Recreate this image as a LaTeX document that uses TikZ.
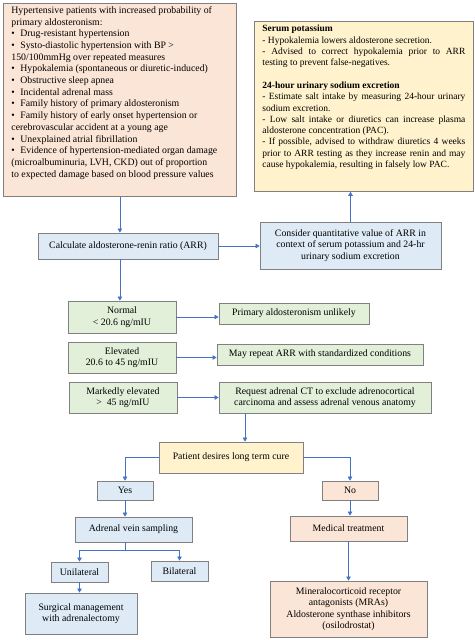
\documentclass[tikz,border=0pt]{standalone}
\usepackage{fontspec}
\setmainfont{Liberation Serif}
\usetikzlibrary{arrows.meta,calc,positioning}
\definecolor{peach}{RGB}{251,229,214}
\definecolor{paleyellow}{RGB}{255,242,204}
\definecolor{paleblue}{RGB}{222,235,247}
\definecolor{palegreen}{RGB}{226,240,217}
\definecolor{linkblue}{RGB}{68,114,196}
\definecolor{boxgray}{RGB}{128,128,128}
\newcommand{\bitem}[1]{\par\hangindent=9pt\hangafter=1\noindent\makebox[9pt][l]{\textbullet}#1}

\begin{document}
\begin{tikzpicture}[x=1pt,y=-1pt,
    box/.style={draw=boxgray,line width=0.8pt,align=center,inner sep=2pt,
      font=\fontsize{9.8}{11.5}\selectfont},
    link/.style={draw=linkblue,line width=0.6pt,-{Triangle[width=4.5pt,length=4pt]}}]
        \useasboundingbox (0,0) rectangle (474,640);
        %Top boxes
        \node[box,fill=peach,inner xsep=8pt,inner ysep=3pt,anchor=north west] (risk) at (3,3)
          {\parbox[c][187pt][t]{217pt}{\raggedright\fontsize{9.8}{11.7}\selectfont
            Hypertensive patients with increased probability of\\primary aldosteronism:
            \bitem{Drug-resistant hypertension}
            \bitem{Systo-diastolic hypertension with BP >\\150/100mmHg over repeated measures}
            \bitem{Hypokalemia (spontaneous or diuretic-induced)}
            \bitem{Obstructive sleep apnea}
            \bitem{Incidental adrenal mass}
            \bitem{Family history of primary aldosteronism}
            \bitem{Family history of early onset hypertension or\\cerebrovascular accident at a young age}
            \bitem{Unexplained atrial fibrillation}
            \bitem{Evidence of hypertension-mediated organ damage\\(microalbuminuria, LVH, CKD) out of proportion\\to expected damage based on blood pressure values}}};
        \node[box,fill=paleyellow,inner xsep=8pt,inner ysep=4pt,anchor=north west] (potas) at (254,21)
          {\parbox[c][162pt][t]{203pt}{\fontsize{9.5}{11.3}\selectfont
            \textbf{Serum potassium}\par
            - Hypokalemia lowers aldosterone secretion.\par
            - Advised to correct hypokalemia prior to ARR\linebreak testing to prevent false-negatives.\par
            \vspace{11.3pt}
            \textbf{24-hour urinary sodium excretion}\par
            - Estimate salt intake by measuring 24-hour urinary\linebreak sodium excretion.\par
            - Low salt intake or diuretics can increase plasma\linebreak aldosterone concentration (PAC).\par
            - If possible, advised to withdraw diuretics 4 weeks\linebreak prior to ARR testing as they increase renin and may\linebreak cause hypokalemia, resulting in falsely low PAC.}};

        %ARR
        \node[box,fill=paleblue,minimum width=180pt,minimum height=26pt] (calc) at (128,246)
          {Calculate aldosterone-renin ratio (ARR)};
        \node[box,fill=paleblue,minimum width=181pt,minimum height=47pt] (consider) at (350.5,245.5)
          {Consider quantitative value of ARR in\\context of serum potassium and 24-hr\\urinary sodium excretion};

        %Results
        \node[box,fill=palegreen,minimum width=108pt,minimum height=32pt] (normal) at (122,317)
          {Normal\\< 20.6 ng/mIU};
        \node[box,fill=palegreen,minimum width=150pt,minimum height=21pt] (unlikely) at (294,313.5)
          {Primary aldosteronism unlikely};
        \node[box,fill=palegreen,minimum width=108pt,minimum height=31pt] (elevated) at (122,357.5)
          {Elevated\\20.6 to 45 ng/mIU};
        \node[box,fill=palegreen,minimum width=206pt,minimum height=21pt] (repeat) at (320,354.5)
          {May repeat ARR with standardized conditions};
        \node[box,fill=palegreen,minimum width=108pt,minimum height=31pt] (marked) at (123,397.5)
          {Markedly elevated\\>\ \ 45 ng/mIU};
        \node[box,fill=palegreen,minimum width=212pt,minimum height=31pt] (ct) at (325,397.5)
          {Request adrenal CT to exclude adrenocortical\\carcinoma and assess adrenal venous anatomy};

        %Cure
        \node[box,fill=paleyellow,minimum width=144pt,minimum height=31pt] (cure) at (231,457.5)
          {Patient desires long term cure};
        \node[box,fill=paleblue,minimum width=56pt,minimum height=19pt] (yes) at (125,490.5) {Yes};
        \node[box,fill=peach,minimum width=56pt,minimum height=19pt] (no) at (350,490.5) {No};
        \node[box,fill=paleblue,minimum width=117pt,minimum height=25pt] (avs) at (133.5,529.5)
          {Adrenal vein sampling};
        \node[box,fill=peach,minimum width=117pt,minimum height=25pt] (medical) at (348.5,528.5)
          {Medical treatment};
        \node[box,fill=paleblue,minimum width=57pt,minimum height=20pt] (uni) at (79.5,572) {Unilateral};
        \node[box,fill=paleblue,minimum width=57pt,minimum height=20pt] (bi) at (179.5,571) {Bilateral};
        \node[box,fill=paleblue,minimum width=112pt,minimum height=41pt] (surgery) at (81,613.5)
          {Surgical management\\with adrenalectomy};
        \node[box,fill=peach,minimum width=157pt,minimum height=56pt] (mra) at (348.5,609)
          {Mineralocorticoid receptor\\antagonists (MRAs)\\Aldosterone synthase inhibitors\\(osilodrostat)};

        %Arrows
        \draw[link] (risk.south) -- (risk.south |- calc.north);
        \draw[link] (calc.east) -- (calc.east -| consider.west);
        \draw[link] (consider.north) -- (consider.north |- potas.south);
        \draw[link] (risk.south |- calc.south) -- (risk.south |- normal.north);
        \draw[link] (normal.east) -- (normal.east -| unlikely.west);
        \draw[link] (elevated.east) -- (elevated.east -| repeat.west);
        \draw[link] (marked.east) -- (marked.east -| ct.west);
        \draw[link] ([xshift=-80pt]ct.south) -- ([xshift=-80pt]ct.south |- cure.north);
        \draw[link] (cure.west) -| (yes.north);
        \draw[link] (cure.east) -| (no.north);
        \draw[link] (yes.south) -- (yes.south |- avs.north);
        \draw[link] (no.south) -- (no.south |- medical.north);
        \coordinate (split) at ($(avs.south -| yes.south)+(0,8)$);
        \draw[draw=linkblue,line width=0.6pt] (avs.south -| yes.south) -- (split);
        \draw[link] (split) -| (uni.north);
        \draw[link] (split) -| (bi.north);
        \draw[link] (uni.south) -- (uni.south |- surgery.north);
        \draw[link] (medical.south) -- (medical.south |- mra.north);
      \end{tikzpicture}
\end{document}
